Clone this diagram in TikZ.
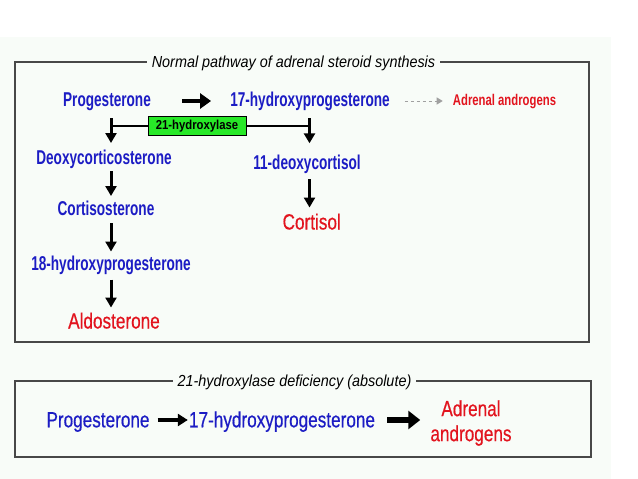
\documentclass[tikz,border=0pt]{standalone}
\usepackage{fontspec}
\setmainfont{Liberation Sans}
\newfontfamily\labfont{Liberation Sans}[FakeStretch=0.68]
\newfontfamily\smallfont{Liberation Sans}[FakeStretch=0.73]
\newfontfamily\enzfont{Liberation Sans}[FakeStretch=0.87]
\newfontfamily\bigfont{Liberation Sans}[FakeStretch=0.78,FakeBold=0.5]
\newfontfamily\titfont{Liberation Sans}[FakeStretch=0.9]
\usetikzlibrary{arrows.meta,calc}
\definecolor{bgc}{RGB}{248,252,248}
\definecolor{lblue}{RGB}{28,28,196}
\definecolor{lred}{RGB}{226,20,30}
\definecolor{egreen}{RGB}{40,232,40}
\definecolor{framec}{RGB}{72,72,72}
\definecolor{dgray}{RGB}{160,160,160}
\tikzset{
  frame/.style={draw=framec,line width=1.5pt},
  boxtitle/.style={fill=bgc,inner xsep=5pt,inner ysep=2pt,anchor=base,text=black,
    font=\titfont\itshape\fontsize{16}{18}\selectfont},
  bluelab/.style={inner sep=0pt,anchor=base,text=lblue,
    font=\labfont\bfseries\fontsize{20}{22}\selectfont},
  redsmall/.style={inner sep=0pt,anchor=base,text=lred,
    font=\smallfont\bfseries\fontsize{15.5}{17}\selectfont},
  redbig/.style={inner sep=0pt,anchor=base,text=lred,
    font=\bigfont\fontsize{22}{25}\selectfont},
  bluebig/.style={inner sep=0pt,anchor=base,text=lblue,
    font=\bigfont\fontsize{22}{25}\selectfont},
  enzbox/.style={draw=black,line width=0.8pt,fill=egreen,minimum width=98pt,
    minimum height=19pt,inner sep=0pt,text=black,
    font=\enzfont\bfseries\fontsize{13}{15}\selectfont},
  varr/.style={draw=black,line width=3pt,-{Triangle[width=11pt,length=10pt]}},
  harr/.style={draw=black,line width=4.5pt,-{Triangle[width=15pt,length=11pt]}},
  harrs/.style={draw=black,line width=3.5pt,-{Triangle[width=12pt,length=10pt]}},
  harrb/.style={draw=black,line width=6pt,-{Triangle[width=18pt,length=12pt]}},
  dasharr/.style={draw=dgray,line width=1pt,dashed,-{Triangle[width=7pt,length=6pt]}},
  brk/.style={draw=black,line width=1.2pt},
}
\begin{document}
\begin{tikzpicture}[x=1pt,y=-1pt]
\useasboundingbox (0,0) rectangle (638,479);
\fill[bgc] (0,37) rectangle (611,479);
% ---- box 1
\draw[frame] (15,62) rectangle (589,342);
\node[boxtitle] (t1) at (293.5,67) {Normal pathway of adrenal steroid synthesis};
\coordinate (colL) at (111,0);
\coordinate (colR) at (309.5,0);
\node[bluelab] (prog) at (107,106) {Progesterone};
\node[bluelab] (hp17) at (310,106) {17-hydroxyprogesterone};
\node[redsmall] (andr1) at (504.5,105) {Adrenal androgens};
\node[bluelab] (doc) at (104,164) {Deoxycorticosterone};
\node[bluelab] (d11) at (307,169.3) {11-deoxycortisol};
\node[bluelab] (cstr) at (106,215) {Cortisosterone};
\node[redbig] (cort) at (311.7,229.5) {Cortisol};
\node[bluelab] (h18) at (111,270.5) {18-hydroxyprogesterone};
\node[redbig] (aldo) at (114,328.5) {Aldosterone};
% bracket with enzyme
\node[enzbox] (enz) at (197,126) {21-hydroxylase};
\draw[brk] ($(prog.base -| colL)+(0,20)$) -- (enz.west);
\draw[brk] (enz.east) -- ($(hp17.base -| colR)+(0,20)$);
\draw[varr] ($(prog.base -| colL)+(0,12)$) -- ($(doc.base -| colL)+(0,-21)$);
\draw[varr] ($(hp17.base -| colR)+(0,12)$) -- ($(d11.base -| colR)+(0,-26)$);
\draw[harr] ($(prog.base east)+(31,-5)$) -- ($(hp17.base west)+(-19,-5)$);
\draw[dasharr] ($(hp17.base east)+(15,-5)$) -- ($(andr1.base west)+(-10,-4)$);
\draw[varr] ($(doc.base -| colL)+(0,7)$) -- ($(cstr.base -| colL)+(0,-19)$);
\draw[varr] ($(cstr.base -| colL)+(0,8)$) -- ($(h18.base -| colL)+(0,-19)$);
\draw[varr] ($(h18.base -| colL)+(0,9)$) -- ($(aldo.base -| colL)+(0,-21)$);
\draw[varr] ($(d11.base -| colR)+(0,10)$) -- ($(cort.base -| colR)+(0,-22)$);
% ---- box 2
\draw[frame] (15,381) rectangle (591,457);
\node[boxtitle] (t2) at (294.5,386) {21-hydroxylase deficiency (absolute)};
\node[bluebig] (prog2) at (98,427.3) {Progesterone};
\node[bluebig] (hp17b) at (282,427.3) {17-hydroxyprogesterone};
\node[redbig,anchor=center,align=center] (andr2) at (471,423) {Adrenal\\androgens};
\coordinate (r2) at ($(hp17b.base)+(0,-7.3)$);
\draw[harrs] ($(prog2.base east)+(8,-7.3)$) -- ($(hp17b.base west)+(-1,-7.3)$);
\draw[harrb] ($(hp17b.base east)+(12,-7.3)$) -- ($(andr2.west |- r2)+(-10,0)$);
\end{tikzpicture}
\end{document}
